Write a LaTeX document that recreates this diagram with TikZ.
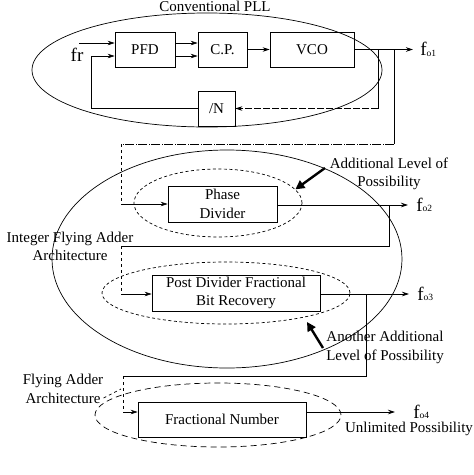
\documentclass[tikz,border=0pt]{standalone}
\usepackage{fontspec}
\setmainfont{Liberation Serif}
\usetikzlibrary{shapes.geometric,arrows.meta}

\newcommand\fout[1]{f\raisebox{-0.5pt}{\fontsize{9.5}{9.5}\selectfont o#1}}

\tikzset{
  blk/.style={draw,rectangle,inner sep=0pt,align=center,font=\fontsize{15}{18.5}\selectfont},
  lbl/.style={align=center,inner sep=0pt,font=\fontsize{15}{18.5}\selectfont},
  outlbl/.style={anchor=west,inner sep=0pt,font=\fontsize{19}{19}\selectfont},
  region/.style={draw,ellipse,inner sep=0pt},
  level/.style={region,dash pattern=on 3pt off 2.5pt},
  pointer/.style={line width=2.4pt,-{Triangle[length=9pt,width=9pt]}},
}

\begin{document}
\begin{tikzpicture}[x=1pt,y=-1pt,line width=0.7pt,>={Stealth[length=7pt,width=4.5pt]}]
\useasboundingbox (0,0) rectangle (474,475);

% regions
\node[region,minimum width=350pt,minimum height=114pt] (pll) at (207,70) {};
\node[lbl] (pll-lbl) at (215,6) {Conventional PLL};
\node[region,minimum width=350pt,minimum height=218pt] (ifa) at (227,259) {};
\node[level,minimum width=168pt,minimum height=68pt] (lvl1) at (218,203) {};
\node[level,minimum width=248pt,minimum height=62pt] (lvl2) at (226,293) {};
\node[region,dash pattern=on 6pt off 4pt,minimum width=246pt,minimum height=64pt] (fa) at (218,415) {};

% blocks
\node[blk,minimum width=60pt,minimum height=35pt] (pfd) at (145,49.5) {PFD};
\node[blk,minimum width=49pt,minimum height=35pt] (cp) at (222.5,49.5) {C.P.};
\node[blk,minimum width=84pt,minimum height=35pt] (vco) at (312,49.5) {VCO};
\node[blk,minimum width=37pt,minimum height=35pt] (divn) at (216.5,108.5) {/N};
\node[blk,minimum width=109pt,minimum height=36pt] (phase) at (222.5,204) {Phase\\Divider};
\node[blk,minimum width=168pt,minimum height=36pt] (postdiv) at (236,293) {Post Divider Fractional\\Bit Recovery};
\node[blk,minimum width=168pt,minimum height=35pt] (fracnum) at (222,419.5) {Fractional Number};

% texts
\node[font=\fontsize{19}{19}\selectfont,inner sep=0pt] (fr) at (77,55) {fr};
\node[outlbl] (fo1) at (420,49.5) {\fout{1}};
\node[outlbl] (fo2) at (416,205) {\fout{2}};
\node[outlbl] (fo3) at (417,294) {\fout{3}};
\node[outlbl] (fo4) at (413,412) {\fout{4}};
\node[lbl] (unl) at (409,429) {Unlimited Possibility};
\node[lbl] (alp) at (389,174) {Additional Level of\\Possibility};
\node[lbl] (aalp) at (385,347.5) {Another Additional\\Level of Possibility};
\node[lbl] (ifa-lbl) at (70,246.5) {Integer Flying Adder\\Architecture};
\node[lbl] (fa-lbl) at (63,389) {Flying Adder\\Architecture};

% coordinates
\coordinate (frin) at (79,43);
\coordinate (fb) at (91,56);
\coordinate (o1) at (413,49.5);
\coordinate (o2) at (408,205);
\coordinate (o3) at (409,294);
\coordinate (o4) at (395,412);
\coordinate (t1) at (378,49.5);
\coordinate (t1b) at (378,108.5);
\coordinate (t2) at (394,49.5);
\coordinate (t2b) at (394,144);
\coordinate (t2c) at (121,144);
\coordinate (t2d) at (121,204);
\coordinate (t3) at (389,205);
\coordinate (t3b) at (389,246);
\coordinate (t3c) at (121,246);
\coordinate (t3d) at (121,294);
\coordinate (t4) at (366,294);
\coordinate (t4b) at (366,376);
\coordinate (t4c) at (123,376);
\coordinate (t4d) at (123,412);
\coordinate (faend) at (121,389);
\coordinate (p1) at (325,168);
\coordinate (p2) at (323,348);
\coordinate (p2end) at (307,322);

% conventional PLL loop
\draw[->] (frin) -- (frin -| pfd.west);
\draw[->] (divn.west) -| (fb) -- (fb -| pfd.west);
\draw[->] ([yshift=6.5pt]pfd.east) -- ([yshift=6.5pt]cp.west);
\draw[->] ([yshift=-6.5pt]pfd.east) -- ([yshift=-6.5pt]cp.west);
\draw[->] (cp.east) -- (vco.west);
\draw[->] (vco.east) -- (o1);
\draw (t1) -- (t1b);
\draw[->,dash pattern=on 7pt off 2pt] (t1b) -- (divn.east);

% phase divider
\draw (t2) -- (t2b);
\draw[dash pattern=on 9pt off 1.5pt on 1pt off 1.5pt] (t2b) -- (t2c);
\draw[dashed] (t2c) -- (t2d);
\draw[->] (t2d) -- (phase.west);
\draw[->] (phase.east |- o2) -- (o2);

% post divider
\draw (t3) |- (t3c);
\draw[dashed] (t3c) -- (t3d);
\draw[->] (t3d) -- (postdiv.west |- t3d);
\draw[->] (postdiv.east |- o3) -- (o3);

% fractional number
\draw (t4) |- (t4c);
\draw[dashed] (t4c) -- (t4d);
\draw[->] (t4d) -- (fracnum.west |- t4d);
\draw[->] (fracnum.east |- o4) -- (o4);

% pointers
\draw[pointer] (p1) -- (lvl1.10);
\draw[pointer] (p2) -- (p2end);
\draw[dashed] ([yshift=-9pt]fa-lbl.east) -- (faend);

\end{tikzpicture}
\end{document}
